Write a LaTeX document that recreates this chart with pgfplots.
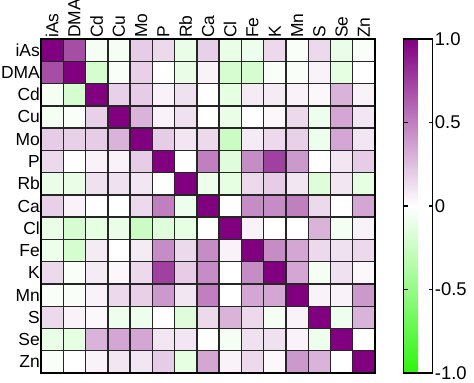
\documentclass[border=0pt]{standalone}
\usepackage{fontspec}
\setmainfont{Liberation Sans}
\usepackage{pgfplots}
\pgfplotsset{compat=1.18}
\begin{document}
\begin{tikzpicture}
\useasboundingbox (-41bp,39bp) rectangle (433bp,-344bp);
\begin{axis}[
  at={(0,0)}, anchor=north west,
  scale only axis, width=334bp, height=334bp,
  xmin=-0.5, xmax=14.5, ymin=-0.5, ymax=14.5,
  y dir=reverse,
  enlargelimits=false,
  axis on top,
  xtick={0,...,14}, ytick={0,...,14},
  xticklabels={iAs,DMA,Cd,Cu,Mo,P,Rb,Ca,Cl,Fe,K,Mn,S,Se,Zn},
  yticklabels={iAs,DMA,Cd,Cu,Mo,P,Rb,Ca,Cl,Fe,K,Mn,S,Se,Zn},
  xticklabel pos=upper,
  major tick length=0pt,
  minor xtick={-0.5,0.5,...,14.5}, minor ytick={-0.5,0.5,...,14.5},
  minor tick length=0pt,
  xminorgrids, yminorgrids,
  minor grid style={black!85, line width=1.4bp},
  axis line style={black, line width=1.4bp},
  xticklabel style={rotate=90, anchor=west, inner sep=1bp, font=\fontsize{17.5}{17.5}\selectfont},
  yticklabel style={anchor=east, inner sep=1bp, font=\fontsize{17.5}{17.5}\selectfont},
  colormap={pg}{rgb255(0cm)=(45,245,15); rgb255(1cm)=(255,255,255); rgb255(2cm)=(128,0,128)},
  point meta min=-1, point meta max=1,
  colorbar,
  colorbar shift/.style={xshift=28bp},
  colorbar style={
    width=29bp,
    ytick={-1,-0.5,0,0.5,1},
    yticklabels={-1.0,-0.5,0,0.5,1.0},
    yticklabel style={font=\fontsize{18.5}{18.5}\selectfont, inner sep=2bp},
    axis line style={black, line width=1.4bp},
    major tick length=4bp,
    tick style={black, line width=1.2bp},
  },
]
\addplot[matrix plot*, mesh/cols=15, point meta=explicit] coordinates {
(0,0)[1] (1,0)[0.7] (2,0)[-0.05] (3,0)[-0.05] (4,0)[0.2] (5,0)[0.15] (6,0)[-0.1] (7,0)[0.18] (8,0)[-0.1] (9,0)[-0.08] (10,0)[0.15] (11,0)[-0.03] (12,0)[0.15] (13,0)[-0.1] (14,0)[-0.03]

(0,1)[0.7] (1,1)[1] (2,1)[-0.2] (3,1)[-0.03] (4,1)[0.18] (5,1)[0.0] (6,1)[-0.1] (7,1)[0.05] (8,1)[-0.2] (9,1)[-0.2] (10,1)[-0.03] (11,1)[-0.03] (12,1)[0.05] (13,1)[-0.12] (14,1)[0.0]

(0,2)[-0.05] (1,2)[-0.2] (2,2)[1] (3,2)[0.18] (4,2)[0.2] (5,2)[0.05] (6,2)[0.12] (7,2)[0.0] (8,2)[-0.12] (9,2)[0.08] (10,2)[0.08] (11,2)[0.05] (12,2)[0.03] (13,2)[0.3] (14,2)[0.05]

(0,3)[-0.05] (1,3)[-0.03] (2,3)[0.18] (3,3)[1] (4,3)[0.3] (5,3)[0.05] (6,3)[0.12] (7,3)[0.0] (8,3)[-0.1] (9,3)[0.0] (10,3)[0.03] (11,3)[0.15] (12,3)[-0.08] (13,3)[0.35] (14,3)[0.1]

(0,4)[0.2] (1,4)[0.18] (2,4)[0.2] (3,4)[0.3] (4,4)[1] (5,4)[0.2] (6,4)[0.1] (7,4)[0.15] (8,4)[-0.25] (9,4)[0.08] (10,4)[0.15] (11,4)[0.18] (12,4)[-0.08] (13,4)[0.35] (14,4)[0.1]

(0,5)[0.15] (1,5)[0.0] (2,5)[0.05] (3,5)[0.05] (4,5)[0.2] (5,5)[1] (6,5)[0.0] (7,5)[0.5] (8,5)[-0.15] (9,5)[0.45] (10,5)[0.75] (11,5)[0.4] (12,5)[0.0] (13,5)[0.1] (14,5)[0.2]

(0,6)[-0.1] (1,6)[-0.1] (2,6)[0.12] (3,6)[0.12] (4,6)[0.1] (5,6)[0.0] (6,6)[1] (7,6)[-0.08] (8,6)[-0.12] (9,6)[0.15] (10,6)[0.2] (11,6)[0.1] (12,6)[-0.15] (13,6)[0.1] (14,6)[-0.12]

(0,7)[0.18] (1,7)[0.05] (2,7)[0.0] (3,7)[0.0] (4,7)[0.15] (5,7)[0.5] (6,7)[-0.08] (7,7)[1] (8,7)[0.0] (9,7)[0.45] (10,7)[0.45] (11,7)[0.5] (12,7)[0.15] (13,7)[0.0] (14,7)[0.35]

(0,8)[-0.1] (1,8)[-0.2] (2,8)[-0.12] (3,8)[-0.1] (4,8)[-0.25] (5,8)[-0.15] (6,8)[-0.12] (7,8)[0.0] (8,8)[1] (9,8)[0.05] (10,8)[0.0] (11,8)[0.0] (12,8)[0.3] (13,8)[-0.05] (14,8)[0.05]

(0,9)[-0.08] (1,9)[-0.2] (2,9)[0.08] (3,9)[0.0] (4,9)[0.08] (5,9)[0.45] (6,9)[0.15] (7,9)[0.45] (8,9)[0.05] (9,9)[1] (10,9)[0.45] (11,9)[0.35] (12,9)[0.15] (13,9)[0.12] (14,9)[0.15]

(0,10)[0.15] (1,10)[-0.03] (2,10)[0.08] (3,10)[0.03] (4,10)[0.15] (5,10)[0.75] (6,10)[0.2] (7,10)[0.45] (8,10)[0.0] (9,10)[0.45] (10,10)[1] (11,10)[0.35] (12,10)[-0.05] (13,10)[0.12] (14,10)[0.03]

(0,11)[-0.03] (1,11)[-0.03] (2,11)[0.05] (3,11)[0.15] (4,11)[0.18] (5,11)[0.4] (6,11)[0.1] (7,11)[0.5] (8,11)[0.0] (9,11)[0.35] (10,11)[0.35] (11,11)[1] (12,11)[0.05] (13,11)[0.05] (14,11)[0.4]

(0,12)[0.15] (1,12)[0.05] (2,12)[0.03] (3,12)[-0.08] (4,12)[-0.08] (5,12)[0.0] (6,12)[-0.15] (7,12)[0.15] (8,12)[0.3] (9,12)[0.15] (10,12)[-0.05] (11,12)[0.05] (12,12)[1] (13,12)[-0.08] (14,12)[0.3]

(0,13)[-0.1] (1,13)[-0.12] (2,13)[0.3] (3,13)[0.35] (4,13)[0.35] (5,13)[0.1] (6,13)[0.1] (7,13)[0.0] (8,13)[-0.05] (9,13)[0.12] (10,13)[0.12] (11,13)[0.05] (12,13)[-0.08] (13,13)[1] (14,13)[0.0]

(0,14)[-0.03] (1,14)[0.0] (2,14)[0.05] (3,14)[0.1] (4,14)[0.1] (5,14)[0.2] (6,14)[-0.12] (7,14)[0.35] (8,14)[0.05] (9,14)[0.15] (10,14)[0.03] (11,14)[0.4] (12,14)[0.3] (13,14)[0.0] (14,14)[1]
};
\end{axis}
\end{tikzpicture}
\end{document}
